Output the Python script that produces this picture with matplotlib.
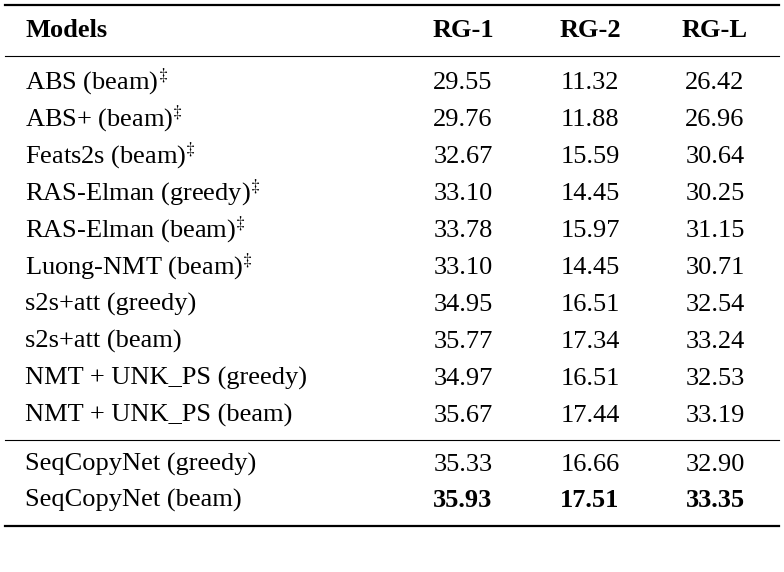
import matplotlib
matplotlib.use('Agg')
import matplotlib.pyplot as plt
from matplotlib.lines import Line2D

plt.rcParams['font.family'] = ['Liberation Serif', 'DejaVu Serif']
plt.rcParams['mathtext.fontset'] = 'stix'

header = ['Models', 'RG-1', 'RG-2', 'RG-L']
models = ['ABS (beam)$^{\\ddagger}$', 'ABS+ (beam)$^{\\ddagger}$', 'Feats2s (beam)$^{\\ddagger}$',
          'RAS-Elman (greedy)$^{\\ddagger}$', 'RAS-Elman (beam)$^{\\ddagger}$',
          'Luong-NMT (beam)$^{\\ddagger}$', 's2s+att (greedy)', 's2s+att (beam)',
          'NMT + UNK_PS (greedy)', 'NMT + UNK_PS (beam)']
rg1 = ['29.55', '29.76', '32.67', '33.10', '33.78', '33.10', '34.95', '35.77', '34.97', '35.67']
rg2 = ['11.32', '11.88', '15.59', '14.45', '15.97', '14.45', '16.51', '17.34', '16.51', '17.44']
rgl = ['26.42', '26.96', '30.64', '30.25', '31.15', '30.71', '32.54', '33.24', '32.53', '33.19']
ours = ['SeqCopyNet (greedy)', 'SeqCopyNet (beam)']
ours_rg1 = ['35.33', '35.93']
ours_rg2 = ['16.66', '17.51']
ours_rgl = ['32.90', '33.35']

W, H = 784, 572
fig = plt.figure(figsize=(W / 100, H / 100), dpi=100)

def px(x, y):
    return x / W, 1 - y / H

# y is the row centre; text sits on a baseline a bit below it
def put(x, y, s, ha='left', bold=False):
    fig.text(*px(x, y + 7), s, ha=ha, va='baseline', fontsize=19,
             fontweight='bold' if bold else 'normal')

def rule(y, lw):
    x0, y0 = px(5, y)
    x1, _ = px(779, y)
    fig.add_artist(Line2D([x0, x1], [y0, y0], color='black', lw=lw))

cols = [463, 590, 715]
rule(5, 1.6)
put(25, 30, header[0], bold=True)
for cx, h in zip(cols, header[1:]):
    put(cx, 30, h, ha='center', bold=True)
rule(56, 0.8)

y = 82
for i in range(len(models)):
    put(25, y, models[i])
    for cx, v in zip(cols, [rg1[i], rg2[i], rgl[i]]):
        put(cx, y, v, ha='center')
    y += 37
rule(440, 0.8)

y = 464
for i in range(len(ours)):
    put(25, y, ours[i])
    for cx, v in zip(cols, [ours_rg1[i], ours_rg2[i], ours_rgl[i]]):
        put(cx, y, v, ha='center', bold=(i == 1))
    y += 36
rule(526, 1.6)

fig.savefig('out.png', dpi=100)
